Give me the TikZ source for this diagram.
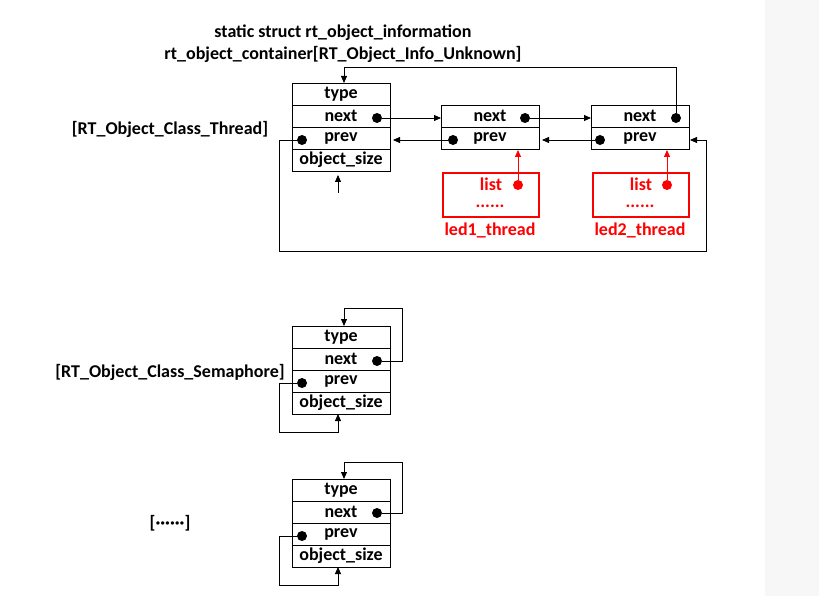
\documentclass[tikz,border=0pt]{standalone}
\usepackage{fontspec}
\setmainfont{Carlito}
\usetikzlibrary{arrows.meta}
\begin{document}
\begin{tikzpicture}[x=1pt,y=-1pt,
  fnt/.style={font=\fontsize{18}{19}\bfseries\selectfont},
  cell/.style={draw,line width=0.8pt,minimum width=98pt,minimum height=22pt,inner sep=0pt,outer sep=0pt,anchor=north west,fnt},
  rcell/.style={draw=red,line width=1.6pt,minimum width=96pt,minimum height=44pt,inner sep=0pt,anchor=north west},
  lbl/.style={fnt},
  rlbl/.style={fnt,text=red,inner sep=1pt},
  dot/.style={circle,fill,inner sep=0pt,minimum size=10pt},
  rdot/.style={circle,fill=red,inner sep=0pt,minimum size=10pt},
  ar/.style={line width=0.8pt,-{Triangle[length=7pt,width=6pt]}},
  rar/.style={line width=1pt,red,-{Triangle[length=7pt,width=6pt]}}]
\useasboundingbox (0,0) rectangle (819,596);
\fill[gray!6] (765,0) rectangle (819,596);
\node[lbl] (t1) at (343,33) {static struct rt\_object\_information};
\node[lbl] (t2) at (343,54) {rt\_object\_container[RT\_Object\_Info\_Unknown]};
\foreach \n/\y/\t in {a1/83/type,a2/105/next,a3/127/prev,a4/149/object\_size}
  \node[cell] (\n) at (292,\y) {\t};
\node[lbl] (L1) at (170,129) {[RT\_Object\_Class\_Thread]};
\node[cell] (b1) at (441,105) {next};
\node[cell] (b2) at (441,127) {prev};
\node[cell] (c1) at (591,105) {next};
\node[cell] (c2) at (591,127) {prev};
\node[rcell] (r1) at (442,172) {};
\node[rcell] (r2) at (592,172) {};
\node[rlbl] (r1l) at (491,184) {list};
\node[rlbl] (r1d) at (490,206) {......};
\node[rlbl] (r2l) at (641,184) {list};
\node[rlbl] (r2d) at (640,206) {......};
\node[rlbl] (n1) at (490,230) {led1\_thread};
\node[rlbl] (n2) at (640,230) {led2\_thread};
\node[rdot] (rd1) at (518,185) {};
\node[rdot] (rd2) at (667,185) {};
\draw[rar] (rd1) -- (518,150);
\draw[rar] (rd2) -- (667,150);
\node[dot] (an) at (377,118) {};
\node[dot] (ap) at (302,140) {};
\node[dot] (bn) at (525,118) {};
\node[dot] (bp) at (453,140) {};
\node[dot] (cn) at (676,118) {};
\node[dot] (cp) at (600,140) {};
\draw[ar] (an) -- (441,118);
\draw[ar] (bn) -- (591,118);
\draw[ar] (bp) -- (393,140);
\draw[ar] (cp) -- (542,140);
\draw[ar] (cn) -- (676,67) -- (344,67) -- (344,83);
\draw[ar] (ap) -- (279,140) -- (279,251) -- (706,251) -- (706,140) -- (690,140);
\coordinate (up0) at (338,193);
\draw[ar] (up0) -- (338,175);
\foreach \n/\y/\t in {s1/326/type,s2/348/next,s3/370/prev,s4/392/object\_size}
  \node[cell] (\n) at (292,\y) {\t};
\node[lbl] (L2) at (170,372) {[RT\_Object\_Class\_Semaphore]};
\node[dot] (sn) at (377,361) {};
\node[dot] (sp) at (302,383) {};
\draw[ar] (sn) -- (402,361) -- (402,308) -- (344,308) -- (344,326);
\draw[ar] (sp) -- (279,383) -- (279,432) -- (338,432) -- (338,414);
\foreach \n/\y/\t in {u1/479/type,u2/501/next,u3/523/prev,u4/545/object\_size}
  \node[cell] (\n) at (292,\y) {\t};
\node[lbl] (L3) at (170,523) {[\textperiodcentered\textperiodcentered\textperiodcentered\textperiodcentered\textperiodcentered\textperiodcentered]};
\node[dot] (un) at (377,513) {};
\node[dot] (up) at (302,536) {};
\draw[ar] (un) -- (402,513) -- (402,462) -- (344,462) -- (344,479);
\draw[ar] (up) -- (279,536) -- (279,585) -- (338,585) -- (338,567);
\end{tikzpicture}
\end{document}
